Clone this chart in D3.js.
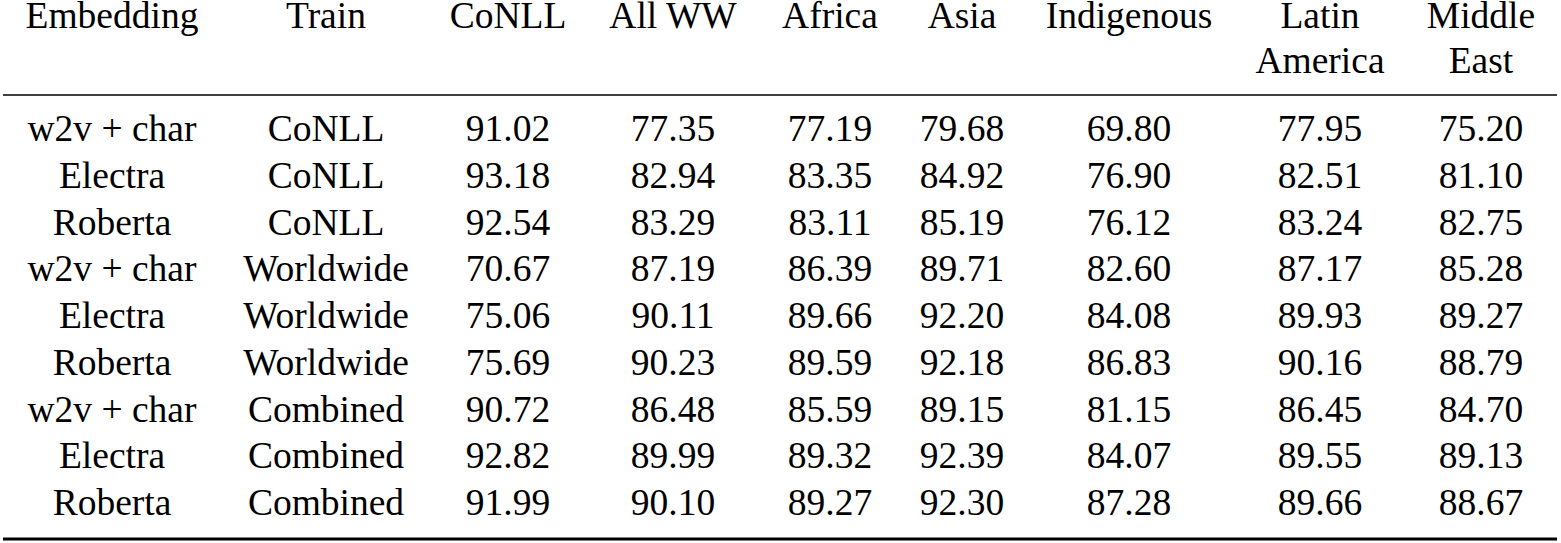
<!DOCTYPE html>
<html>
<head>
<meta charset="utf-8">
<script src="https://cdn.jsdelivr.net/npm/d3@7"></script>
<style>
  body { margin: 0; background: #fff; }
</style>
</head>
<body>
<svg width="1561" height="543"></svg>
<script>
const headers = [["Embedding"], ["Train"], ["CoNLL"], ["All WW"], ["Africa"], ["Asia"],
  ["Indigenous"], ["Latin", "America"], ["Middle", "East"]]
const embeddings = ["w2v + char", "Electra", "Roberta", "w2v + char", "Electra", "Roberta",
  "w2v + char", "Electra", "Roberta"]
const trainSets = ["CoNLL", "CoNLL", "CoNLL", "Worldwide", "Worldwide", "Worldwide",
  "Combined", "Combined", "Combined"]
const conll      = [91.02, 93.18, 92.54, 70.67, 75.06, 75.69, 90.72, 92.82, 91.99]
const allWW      = [77.35, 82.94, 83.29, 87.19, 90.11, 90.23, 86.48, 89.99, 90.10]
const africa     = [77.19, 83.35, 83.11, 86.39, 89.66, 89.59, 85.59, 89.32, 89.27]
const asia       = [79.68, 84.92, 85.19, 89.71, 92.20, 92.18, 89.15, 92.39, 92.30]
const indigenous = [69.80, 76.90, 76.12, 82.60, 84.08, 86.83, 81.15, 84.07, 87.28]
const latinAm    = [77.95, 82.51, 83.24, 87.17, 89.93, 90.16, 86.45, 89.55, 89.66]
const middleEast = [75.20, 81.10, 82.75, 85.28, 89.27, 88.79, 84.70, 89.13, 88.67]

const svg = d3.select("svg")
  .attr("font-family", "'Liberation Serif', Tinos, 'Times New Roman', 'DejaVu Serif', serif")
const fmt = d3.format(".2f")
const fontSize = 37.5

// column centres are not even in the table, so map each column to its own x
const colIdx = d3.range(headers.length)
const x = d3.scaleOrdinal()
  .domain(colIdx)
  .range([112, 326, 508, 673, 830, 962, 1129, 1320, 1481])

// row baselines
const y = d3.scaleLinear().domain([0, embeddings.length - 1]).range([141, 515])
const headY = d3.scaleLinear().domain([0, 1]).range([28, 73])

// header
const head = svg.append("g").attr("class", "header")
headers.forEach((lines, c) => {
  lines.forEach((t, li) => {
    head.append("text")
      .attr("x", x(c))
      .attr("y", headY(li))
      .attr("text-anchor", "middle")
      .attr("font-size", fontSize)
      .attr("fill", "#000")
      .text(t)
  })
})

// rules
svg.append("line")
  .attr("x1", 3).attr("x2", 1557)
  .attr("y1", 95).attr("y2", 95)
  .attr("stroke", "#000").attr("stroke-width", 1.6)
svg.append("line")
  .attr("x1", 3).attr("x2", 1557)
  .attr("y1", 539).attr("y2", 539)
  .attr("stroke", "#000").attr("stroke-width", 3)

// body
const rows = embeddings.map((e, i) => [e, trainSets[i],
  fmt(conll[i]), fmt(allWW[i]), fmt(africa[i]), fmt(asia[i]),
  fmt(indigenous[i]), fmt(latinAm[i]), fmt(middleEast[i])])

const row = svg.append("g").attr("class", "body")
  .selectAll("g")
  .data(rows)
  .enter().append("g")
    .attr("transform", (d, i) => "translate(0," + y(i) + ")")

row.selectAll("text")
  .data(d => d)
  .enter().append("text")
    .attr("x", (d, c) => x(c))
    .attr("text-anchor", "middle")
    .attr("font-size", fontSize)
    .attr("fill", "#000")
    .text(d => d)
</script>
</body>
</html>
